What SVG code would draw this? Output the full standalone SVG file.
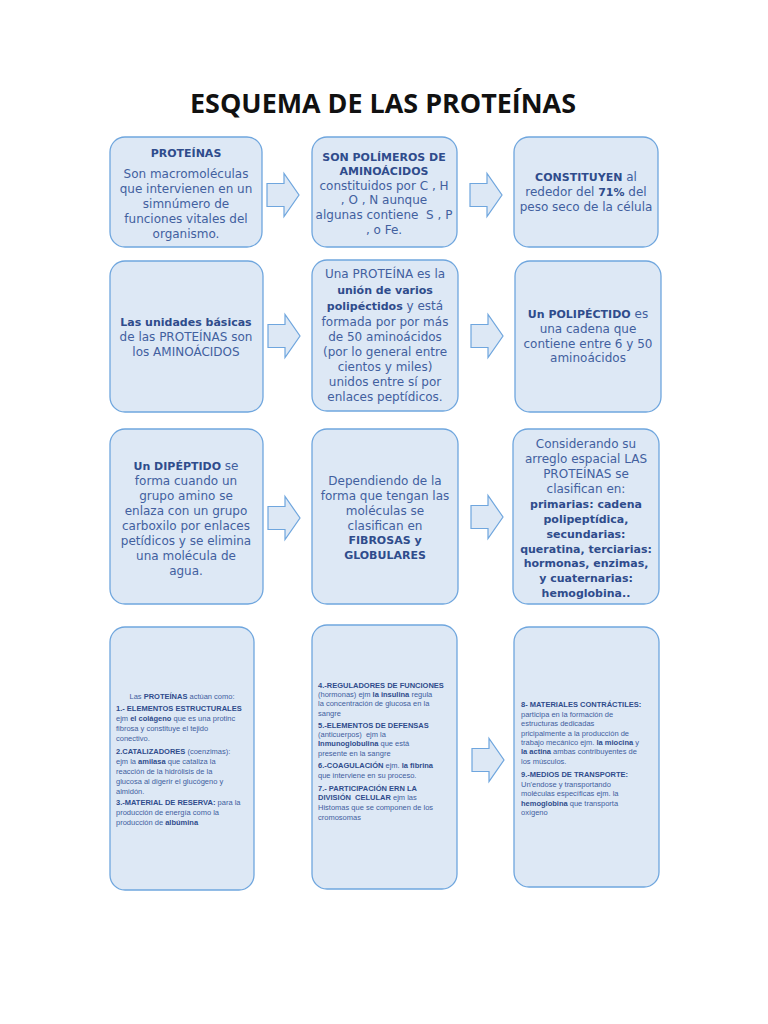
<svg xmlns="http://www.w3.org/2000/svg" width="768" height="1024" viewBox="0 0 768 1024">
<style>
.bg{fill:#ffffff}
.box{fill:#dde8f5;stroke:#6fa6de;stroke-width:1.3}
.arrow{fill:#dde8f5;stroke:#6fa6de;stroke-width:1.2}
.t{font-family:"DejaVu Sans","Liberation Sans",sans-serif;font-size:12px;fill:#42609f;text-anchor:middle}
.t .b{font-size:11px}
.s{font-family:"Liberation Sans",Arial,sans-serif;font-size:7.5px;fill:#42609f}
.b{font-weight:bold;fill:#2f4c8c}
.title{font-family:"Open Sans","Liberation Sans",sans-serif;font-size:26px;font-weight:bold;fill:#111111;text-anchor:middle}
</style>
<defs>
<path id="arr" d="M0,-11.5 H17 V-21.5 L32,0 L17,21.5 V11.5 H0 Z"/>
</defs>
<rect class="bg" x="0" y="0" width="768" height="1024"/>
<text class="title" x="383" y="113" textLength="386" lengthAdjust="spacingAndGlyphs">ESQUEMA DE LAS PROTEÍNAS</text>

<g id="n1">
<rect class="box" x="110" y="137" width="152" height="110" rx="15"/>
<text class="t"><tspan class="b" x="186" y="157">PROTEÍNAS</tspan><tspan x="186" y="178">Son macromoléculas</tspan><tspan x="186" y="193">que intervienen en un</tspan><tspan x="186" y="208">simnúmero de</tspan><tspan x="186" y="223">funciones vitales del</tspan><tspan x="186" y="238">organismo.</tspan></text>
</g>
<g id="n2">
<rect class="box" x="312" y="137" width="145" height="110" rx="15"/>
<text class="t"><tspan class="b" x="384" y="161">SON POLÍMEROS DE</tspan><tspan class="b" x="384" y="175">AMINOÁCIDOS</tspan><tspan x="384" y="190">constituidos por C , H</tspan><tspan x="384" y="204">, O , N aunque</tspan><tspan x="384" y="219">algunas contiene&#160; S , P</tspan><tspan x="384" y="234">, o Fe.</tspan></text>
</g>
<g id="n3">
<rect class="box" x="514" y="137" width="144" height="110" rx="15"/>
<text class="t"><tspan x="586" y="181"><tspan class="b">CONSTITUYEN</tspan> al</tspan><tspan x="586" y="196">rededor del <tspan class="b">71%</tspan> del</tspan><tspan x="586" y="211">peso seco de la célula</tspan></text>
</g>

<g id="n4">
<rect class="box" x="110" y="261" width="153" height="151" rx="15"/>
<text class="t"><tspan class="b" x="186" y="326">Las unidades básicas</tspan><tspan x="186" y="341">de las PROTEÍNAS son</tspan><tspan x="186" y="356">los AMINOÁCIDOS</tspan></text>
</g>
<g id="n5">
<rect class="box" x="312" y="260" width="146" height="151" rx="15"/>
<text class="t"><tspan x="385" y="278">Una PROTEÍNA es la</tspan><tspan class="b" x="385" y="294">unión de varios</tspan><tspan x="385" y="310"><tspan class="b">polipéctidos</tspan> y está</tspan><tspan x="385" y="326">formada por por más</tspan><tspan x="385" y="341">de 50 aminoácidos</tspan><tspan x="385" y="356">(por lo general entre</tspan><tspan x="385" y="371">cientos y miles)</tspan><tspan x="385" y="386">unidos entre sí por</tspan><tspan x="385" y="401">enlaces peptídicos.</tspan></text>
</g>
<g id="n6">
<rect class="box" x="515" y="261" width="146" height="151" rx="15"/>
<text class="t"><tspan x="588" y="318"><tspan class="b">Un POLIPÉCTIDO</tspan> es</tspan><tspan x="588" y="333">una cadena que</tspan><tspan x="588" y="348">contiene entre 6 y 50</tspan><tspan x="588" y="362">aminoácidos</tspan></text>
</g>

<g id="n7">
<rect class="box" x="110" y="429" width="153" height="175" rx="15"/>
<text class="t"><tspan x="186" y="470"><tspan class="b">Un DIPÉPTIDO</tspan> se</tspan><tspan x="186" y="485">forma cuando un</tspan><tspan x="186" y="500">grupo amino se</tspan><tspan x="186" y="515">enlaza con un grupo</tspan><tspan x="186" y="530">carboxilo por enlaces</tspan><tspan x="186" y="545">petídicos y se elimina</tspan><tspan x="186" y="560">una molécula de</tspan><tspan x="186" y="575">agua.</tspan></text>
</g>
<g id="n8">
<rect class="box" x="312" y="429" width="146" height="175" rx="15"/>
<text class="t"><tspan x="385" y="485">Dependiendo de la</tspan><tspan x="385" y="500">forma que tengan las</tspan><tspan x="385" y="515">moléculas se</tspan><tspan x="385" y="530">clasifican en</tspan><tspan class="b" x="385" y="544">FIBROSAS y</tspan><tspan class="b" x="385" y="559">GLOBULARES</tspan></text>
</g>
<g id="n9">
<rect class="box" x="513" y="429" width="146" height="175" rx="15"/>
<text class="t"><tspan x="586" y="448">Considerando su</tspan><tspan x="586" y="463">arreglo espacial LAS</tspan><tspan x="586" y="478">PROTEÍNAS se</tspan><tspan x="586" y="493">clasifican en:</tspan><tspan class="b" x="586" y="508">primarias: cadena</tspan><tspan class="b" x="586" y="523">polipeptídica,</tspan><tspan class="b" x="586" y="538">secundarias:</tspan><tspan class="b" x="586" y="553">queratina, terciarias:</tspan><tspan class="b" x="586" y="567">hormonas, enzimas,</tspan><tspan class="b" x="586" y="582">y cuaternarias:</tspan><tspan class="b" x="586" y="597">hemoglobina..</tspan></text>
</g>

<g id="n10">
<rect class="box" x="110" y="627" width="144" height="263" rx="15"/>
<text class="s"><tspan x="182" y="699" text-anchor="middle">Las <tspan class="b">PROTEÍNAS</tspan> actúan como:</tspan><tspan class="b" x="116" y="711">1.- ELEMENTOS ESTRUCTURALES</tspan><tspan x="116" y="721">ejm <tspan class="b">el colágeno</tspan> que es una protinc</tspan><tspan x="116" y="731">fibrosa y constituye el tejido</tspan><tspan x="116" y="741">conectivo.</tspan><tspan x="116" y="754"><tspan class="b">2.CATALIZADORES</tspan> (coenzimas):</tspan><tspan x="116" y="764">ejm la <tspan class="b">amilasa</tspan> que cataliza la</tspan><tspan x="116" y="774">reacción de la hidrólisis de la</tspan><tspan x="116" y="784">glucosa al digerir el glucógeno y</tspan><tspan x="116" y="794">almidón.</tspan><tspan x="116" y="805"><tspan class="b">3.-MATERIAL DE RESERVA:</tspan> para la</tspan><tspan x="116" y="815">producción de energía como la</tspan><tspan x="116" y="825">producción de <tspan class="b">albúmina</tspan></tspan></text>
</g>
<g id="n11">
<rect class="box" x="312" y="625" width="145" height="264" rx="15"/>
<text class="s"><tspan class="b" x="318" y="688">4.-REGULADORES DE FUNCIONES</tspan><tspan x="318" y="697">(hormonas) ejm <tspan class="b">la insulina</tspan> regula</tspan><tspan x="318" y="706">la concentración de glucosa en la</tspan><tspan x="318" y="716">sangre</tspan><tspan class="b" x="318" y="728">5.-ELEMENTOS DE DEFENSAS</tspan><tspan x="318" y="737">(anticuerpos)&#160; ejm la</tspan><tspan x="318" y="746"><tspan class="b">Inmunoglobulina</tspan> que está</tspan><tspan x="318" y="756">presente en la sangre</tspan><tspan x="318" y="768"><tspan class="b">6.-COAGULACIÓN</tspan> ejm. <tspan class="b">la fibrina</tspan></tspan><tspan x="318" y="778">que interviene en su proceso.</tspan><tspan class="b" x="318" y="791">7.- PARTICIPACIÓN ERN LA</tspan><tspan x="318" y="800"><tspan class="b">DIVISIÓN&#160; CELULAR</tspan> ejm las</tspan><tspan x="318" y="810">Histomas que se componen de los</tspan><tspan x="318" y="820">cromosomas</tspan></text>
</g>
<g id="n12">
<rect class="box" x="514" y="627" width="145" height="260" rx="15"/>
<text class="s"><tspan class="b" x="521" y="707">8- MATERIALES CONTRÁCTILES:</tspan><tspan x="521" y="717">participa en la formación de</tspan><tspan x="521" y="726">estructuras dedicadas</tspan><tspan x="521" y="736">pricipalmente a la producción de</tspan><tspan x="521" y="745">trabajo mecánico ejm. <tspan class="b">la miocina</tspan> y</tspan><tspan x="521" y="754"><tspan class="b">la actina</tspan> ambas contribuyentes de</tspan><tspan x="521" y="764">los músculos.</tspan><tspan class="b" x="521" y="777">9.-MEDIOS DE TRANSPORTE:</tspan><tspan x="521" y="787">Un'endose y transportando</tspan><tspan x="521" y="796">moléculas específicas ejm. la</tspan><tspan x="521" y="806"><tspan class="b">hemoglobina</tspan> que transporta</tspan><tspan x="521" y="815">oxígeno</tspan></text>
</g>

<g id="connectors">
<use href="#arr" class="arrow" transform="translate(267,195)"/>
<use href="#arr" class="arrow" transform="translate(470,195)"/>
<use href="#arr" class="arrow" transform="translate(268,336)"/>
<use href="#arr" class="arrow" transform="translate(471,336)"/>
<use href="#arr" class="arrow" transform="translate(268,518)"/>
<use href="#arr" class="arrow" transform="translate(471,517)"/>
<use href="#arr" class="arrow" transform="translate(472,760)"/>
</g>
</svg>
